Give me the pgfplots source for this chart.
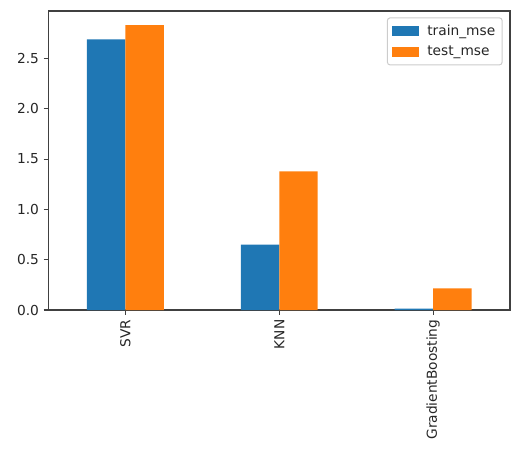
\documentclass[border=0pt]{standalone}
\usepackage{fontspec}
\setmainfont{DejaVu Sans}
\usepackage{pgfplots}
\pgfplotsset{compat=1.18}

\definecolor{mplblue}{HTML}{1F77B4}
\definecolor{mplorange}{HTML}{FF7F0E}

\begin{document}
\fontsize{13.75bp}{16bp}\selectfont
\begin{tikzpicture}
\useasboundingbox (-48.5bp,-139bp) rectangle (475.5bp,310bp);
\begin{axis}[
  at={(0,0)}, anchor=south west,
  scale only axis,
  width=461.5bp, height=299bp,
  xmin=-0.5, xmax=2.5,
  ymin=0, ymax=2.9715,
  xtick={0,1,2},
  xticklabels={SVR, KNN, GradientBoosting},
  xticklabel style={rotate=90, anchor=east},
  ytick={0,0.5,...,2.5},
  yticklabel style={/pgf/number format/.cd, fixed, fixed zerofill, precision=1},
  /pgf/number format/assume math mode=true,
  xtick pos=bottom, ytick pos=left,
  tick align=outside,
  major tick length=4.8bp,
  tick style={black!75, line width=1.1bp},
  axis line style={black!75, line width=1.1bp},
  ticklabel style={font=\fontsize{13.75bp}{16bp}\selectfont, text=black!85},
  legend style={
    at={(1,1)}, xshift=-7.3bp, yshift=-6.3bp, anchor=north east,
    draw=black!20, line width=1bp, rounded corners=3bp,
    font=\fontsize{13.75bp}{16bp}\selectfont, text=black!85,
    inner xsep=5bp, inner ysep=5bp, row sep=5bp,
    cells={anchor=west},
    /tikz/every odd column/.append style={column sep=6bp},
  },
  legend image code/.code={
    \fill[#1, sharp corners] (0bp,-5bp) rectangle (27bp,5bp);
  },
]
\addplot[ybar, bar width=0.25, bar shift=-0.125, fill=mplblue, draw=none]
  coordinates {(0,2.69) (1,0.65) (2,0.013)};
\addlegendentry{train\_mse}
\addplot[ybar, bar width=0.25, bar shift=0.125, fill=mplorange, draw=none]
  coordinates {(0,2.83) (1,1.378) (2,0.215)};
\addlegendentry{test\_mse}
\end{axis}
\end{tikzpicture}
\end{document}
